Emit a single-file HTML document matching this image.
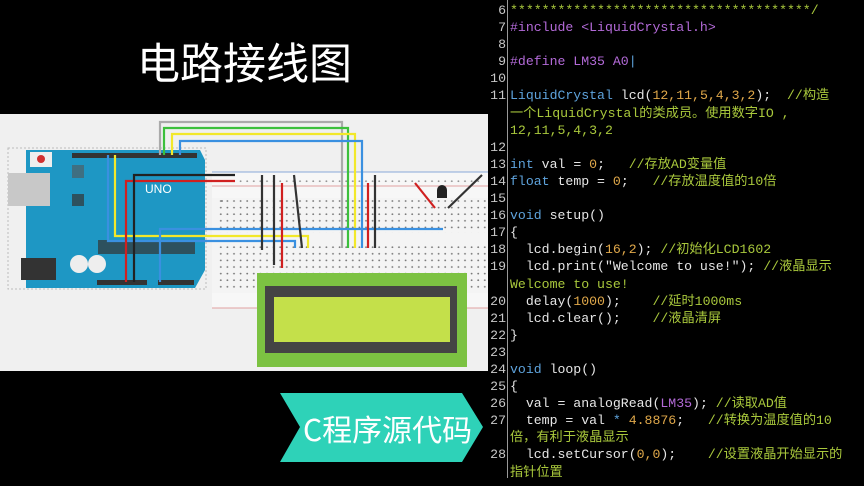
<!DOCTYPE html>
<html><head><meta charset="utf-8"><style>
body{margin:0;width:864px;height:486px;background:#000;overflow:hidden;position:relative;font-family:"Liberation Sans","Noto Sans CJK SC",sans-serif}
.t{position:absolute;left:137px;top:30px;color:#fff;font-size:43px;font-family:"Noto Sans CJK SC",sans-serif;letter-spacing:0}
pre{position:absolute;margin:0;top:2px;font-family:"Liberation Mono","Noto Sans CJK SC",monospace;font-size:13.2px;line-height:17.1px}
.n{left:486px;width:20px;text-align:right;color:#c8c8c8}
.c{left:510px;color:#e6e6e6}
.k{color:#b36ad8}.b{color:#5ea3dc}.o{color:#e0a84a}.g{color:#a9c83c}
.sep{position:absolute;left:507px;top:0;width:1px;height:478px;background:#999}
</style></head><body>
<div class="t">电路接线图</div>
<svg style="position:absolute;left:0;top:0" width="488" height="486">
<rect x="0" y="114" width="488" height="257" fill="#f0f0f0"/>
<!-- breadboard -->
<rect x="212" y="172" width="276" height="26" fill="#f7f7f7"/>
<line x1="212" y1="172" x2="488" y2="172" stroke="#8aa8d8"/><line x1="212" y1="186" x2="488" y2="186" stroke="#e0a0a0"/>
<rect x="212" y="198" width="276" height="95" fill="#f4f4f4"/>
<rect x="212" y="293" width="276" height="15" fill="#f7f7f7"/>
<line x1="212" y1="308" x2="488" y2="308" stroke="#e0a0a0"/>
<g fill="#666">
<g id="r"><circle cx="222" cy="201" r="0.9"/></g>
</g>
<pattern id="dots" width="6.6" height="6.6" patternUnits="userSpaceOnUse"><circle cx="3" cy="3" r="0.9" fill="#777"/></pattern>
<rect x="218" y="200" width="270" height="33" fill="url(#dots)"/>
<rect x="218" y="245" width="270" height="46" fill="url(#dots)"/>
<rect x="232" y="176" width="250" height="7" fill="url(#dots)" opacity=".8"/>
<!-- arduino -->
<rect x="8" y="148" width="198" height="141" fill="none" stroke="#bbb" stroke-dasharray="2 2"/>
<path d="M26 150 H200 L205 160 V270 L195 288 H26 Z" fill="#1e97c4"/>
<rect x="8" y="173" width="42" height="33" fill="#c8c8c8"/>
<rect x="21" y="258" width="35" height="22" fill="#333"/>
<circle cx="79" cy="264" r="9" fill="#eee"/><circle cx="97" cy="264" r="9" fill="#eee"/>
<rect x="30" y="152" width="22" height="15" fill="#eee"/><circle cx="41" cy="159" r="4" fill="#d03030"/>
<rect x="72" y="153" width="125" height="5" fill="#333"/>
<rect x="98" y="240" width="97" height="14" fill="#333" opacity=".7"/>
<rect x="72" y="165" width="12" height="13" fill="#555" opacity=".6"/>
<rect x="72" y="194" width="12" height="12" fill="#333" opacity=".7"/>
<rect x="97" y="280" width="50" height="5" fill="#333"/><rect x="158" y="280" width="36" height="5" fill="#333"/>
<text x="145" y="193" font-size="12" fill="#fff" font-family="Liberation Sans">UNO</text>
<!-- wires -->
<g fill="none" stroke-width="2.2">
<path d="M160 155 V122 H342 V248" stroke="#aaa"/>
<path d="M164 155 V128 H348 V248" stroke="#3cc03c"/>
<path d="M172 155 V134 H355 V248" stroke="#f2e82a"/>
<path d="M180 155 V141 H362 V248" stroke="#3a90e0"/>
<path d="M115 155 V236 H308 V248" stroke="#f2e82a"/>
<path d="M108 155 V241 H295 V248" stroke="#3a90e0"/>
<path d="M160 282 V229 H443" stroke="#3a90e0"/>
<path d="M126 282 V181 H235" stroke="#d02020"/>
<path d="M134 282 V175 H235" stroke="#222"/>
<path d="M262 175 V250" stroke="#333"/><path d="M274 175 V265" stroke="#333"/><path d="M282 183 V268" stroke="#d02020"/>
<path d="M294 175 L302 248" stroke="#333"/><path d="M368 183 V248" stroke="#d02020"/><path d="M375 175 V248" stroke="#333"/>
<path d="M415 183 L435 208" stroke="#d02020"/><path d="M448 208 L482 175" stroke="#333"/>
</g>
<path d="M437 190 a5 5 0 0 1 10 0 v8 h-10z" fill="#222"/>
<!-- LCD -->
<rect x="257" y="273" width="210" height="94" fill="#7cc242"/>
<rect x="265" y="286" width="192" height="67" fill="#444"/>
<rect x="274" y="297" width="176" height="45" fill="#c4e04a"/>
<!-- banner -->
<path d="M280 393 H462 L483 427 L462 462 H280 L300 427 Z" fill="#2ed2b8"/>
<text x="303" y="441" font-size="30" fill="#fff" font-family="Noto Sans CJK SC,sans-serif">C程序源代码</text>
</svg>
<div class="sep"></div>
<pre class="n">6
7
8
9
10
11


12
13
14
15
16
17
18
19

20
21
22
23
24
25
26
27

28</pre>
<pre class="c"><span class="g">**************************************/</span>
<span class="k">#include &lt;LiquidCrystal.h&gt;</span>

<span class="k">#define LM35 A0</span><span style="color:#5ea3dc">|</span>

<span class="b">LiquidCrystal</span> lcd(<span class="o">12,11,5,4,3,2</span>);  <span class="g">//构造</span>
<span class="g">一个LiquidCrystal的类成员。使用数字IO ,</span>
<span class="g">12,11,5,4,3,2</span>

<span class="b">int</span> val = <span class="o">0</span>;   <span class="g">//存放AD变量值</span>
<span class="b">float</span> temp = <span class="o">0</span>;   <span class="g">//存放温度值的10倍</span>

<span class="b">void</span> setup()
{
  lcd.begin(<span class="o">16,2</span>); <span class="g">//初始化LCD1602</span>
  lcd.print("Welcome to use!"); <span class="g">//液晶显示</span>
<span class="g">Welcome to use!</span>
  delay(<span class="o">1000</span>);    <span class="g">//延时1000ms</span>
  lcd.clear();    <span class="g">//液晶清屏</span>
}

<span class="b">void</span> loop()
{
  val = analogRead(<span class="k">LM35</span>); <span class="g">//读取AD值</span>
  temp = val <span class="b">*</span> <span class="o">4.8876</span>;   <span class="g">//转换为温度值的10</span>
<span class="g">倍，有利于液晶显示</span>
  lcd.setCursor(<span class="o">0,0</span>);    <span class="g">//设置液晶开始显示的</span>
<span class="g">指针位置</span></pre>
</body></html>
